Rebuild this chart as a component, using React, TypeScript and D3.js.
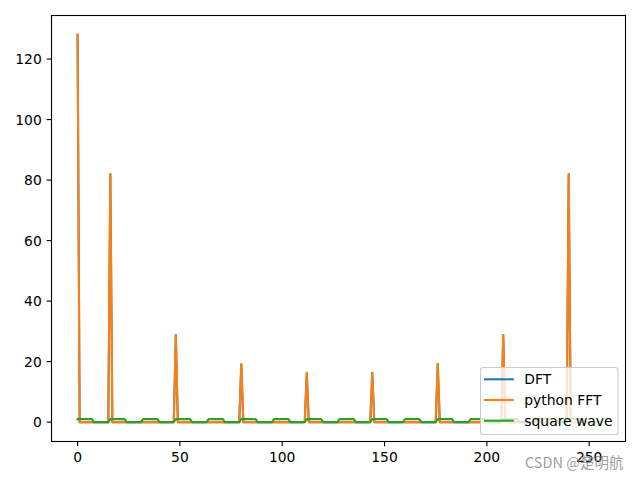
import React from "react";
import * as d3 from "d3";

// ---- data ----
const sampleCount = 256;
// bins with non-zero magnitude and their heights
const spikeBins = [0, 16, 48, 80, 112, 144, 176, 208, 240];
const spikeHeights = [128, 82.0, 28.8, 19.2, 16.3, 16.3, 19.2, 28.8, 82.0];
// square wave: index ranges where it is 1 (else 0)
const squareHighRuns: [number, number][] = [
  [0, 7], [16, 23], [32, 39], [48, 55], [64, 71], [80, 87], [96, 103], [112, 119],
  [128, 135], [144, 151], [160, 167], [176, 183], [192, 199], [208, 215], [224, 231], [240, 247],
];
const xTicks = [0, 50, 100, 150, 200, 250];
const yTicks = [0, 20, 40, 60, 80, 100, 120];
const seriesNames = ["DFT", "python FFT", "square wave"];
const seriesColors = ["#1f77b4", "#ff7f0e", "#2ca02c"];

const indices = d3.range(sampleCount);
const spectrum = indices.map((i) => {
  const k = spikeBins.indexOf(i);
  return k >= 0 ? spikeHeights[k] : 0;
});
const square = indices.map((i) => (squareHighRuns.some(([a, b]) => i >= a && i <= b) ? 1 : 0));

const W = 640, H = 480;
const L = 51.5, R = 625.5, T = 15.5, B = 441.5;
const FONT = "DejaVu Sans";
const FS = 13.89;

export default function App() {
  const xMin = 0, xMax = sampleCount - 1;
  const xPad = (xMax - xMin) * 0.05;
  const x = d3.scaleLinear().domain([xMin - xPad, xMax + xPad]).range([L, R]);
  const yMax = d3.max(spectrum)!;
  const yPad = yMax * 0.05;
  const y = d3.scaleLinear().domain([0 - yPad, yMax + yPad]).range([B, T]);
  const line = d3.line<number>().x((_, i) => x(i)).y((d) => y(d));
  const data = [spectrum, spectrum, square];
  const lw = 2.08;

  // legend
  const lgR = 618, lgB = 434.5, lgW = 137.5, lgH = 67;
  const lgL = lgR - lgW, lgT = lgB - lgH;
  const rowY = [379.3, 400, 420.7];

  return (
    <svg width={W} height={H} style={{ position: "absolute", left: 0, top: 0, background: "#fff" }}>
      <defs>
        <clipPath id="plotclip">
          <rect x={L} y={T} width={R - L} height={B - T} />
        </clipPath>
      </defs>
      <rect x={0} y={0} width={W} height={H} fill="#fff" />
      <g clipPath="url(#plotclip)">
        {data.map((d, s) => (
          <path key={s} d={line(d)!} fill="none" stroke={seriesColors[s]} strokeWidth={lw}
            strokeLinejoin="round" strokeLinecap="square" />
        ))}
      </g>
      {/* axes frame */}
      <rect x={L} y={T} width={R - L} height={B - T} fill="none" stroke="#000" strokeWidth={1.1} />
      {/* x ticks */}
      {xTicks.map((t) => (
        <g key={"x" + t}>
          <line x1={x(t)} x2={x(t)} y1={B} y2={B + 4.86} stroke="#000" strokeWidth={1.1} />
          <text x={x(t)} y={B + 4.86 + 4.86 + 10.6} textAnchor="middle" fontFamily={FONT} fontSize={FS} fill="#000">{t}</text>
        </g>
      ))}
      {/* y ticks */}
      {yTicks.map((t) => (
        <g key={"y" + t}>
          <line x1={L - 4.86} x2={L} y1={y(t)} y2={y(t)} stroke="#000" strokeWidth={1.1} />
          <text x={L - 4.86 - 4.86} y={y(t)} dy="0.36em" textAnchor="end" fontFamily={FONT} fontSize={FS} fill="#000">{t}</text>
        </g>
      ))}
      {/* legend */}
      <rect x={lgL} y={lgT} width={lgW} height={lgH} rx={2.8} ry={2.8} fill="#fff" fillOpacity={0.8} stroke="#cccccc" strokeWidth={1.1} />
      {seriesNames.map((n, i) => (
        <g key={n}>
          <line x1={484} x2={513.8} y1={rowY[i]} y2={rowY[i]} stroke={seriesColors[i]} strokeWidth={lw} />
          <text x={524.3} y={rowY[i]} dy="0.36em" fontFamily={FONT} fontSize={FS} fill="#000">{n}</text>
        </g>
      ))}
      {/* watermark */}
      <text x={525} y={468} fontFamily="Noto Sans CJK SC" fontSize={14.5} fill="#8c8c8c" fillOpacity={0.85}>CSDN @楚明航</text>
    </svg>
  );
}
